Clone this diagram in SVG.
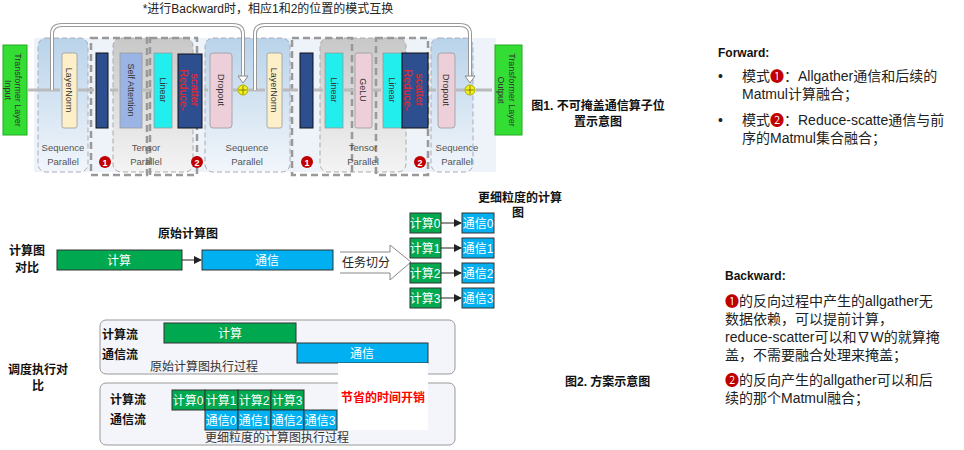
<svg xmlns="http://www.w3.org/2000/svg" width="964" height="450" viewBox="0 0 964 450">
<defs>
<linearGradient id="sp" x1="0" y1="0" x2="0" y2="1"><stop offset="0" stop-color="#b9d3ea"/><stop offset="1" stop-color="#f2f6fb"/></linearGradient>
<linearGradient id="tp" x1="0" y1="0" x2="0" y2="1"><stop offset="0" stop-color="#c8c8c8"/><stop offset="1" stop-color="#f4f4f4"/></linearGradient>
<marker id="ah" markerWidth="8" markerHeight="8" refX="7" refY="4" orient="auto" markerUnits="userSpaceOnUse"><path d="M0,0 L8,4 L0,8 z" fill="#222"/></marker>
</defs>
<style>
text{font-family:"Liberation Sans","Noto Sans CJK SC",sans-serif}
.sp{fill:url(#sp);stroke:#aab;stroke-dasharray:5,3}
.tp{fill:url(#tp);stroke:#aaa;stroke-dasharray:5,3}
.db{fill:none;stroke:#999;stroke-width:2.5;stroke-dasharray:7,4}
.blk{stroke:#999;stroke-width:0.8}
.vt{font-size:9px;fill:#333}
.lab{font-size:9.5px;fill:#555;text-anchor:middle}
.g{fill:#00a84f;stroke:#333;stroke-width:1}
.b{fill:#00b0f0;stroke:#333;stroke-width:1}
.wt{fill:#fff;font-size:12px;text-anchor:middle}
.hd{font-size:12px;font-weight:bold;fill:#111}
.rt{font-size:14px;fill:#222}
.bd{fill:#c00000}
.flow{fill:none;stroke:#bbb;stroke-width:3}
.arc{fill:none;stroke:#999;stroke-width:4}
.arci{fill:none;stroke:#fff;stroke-width:2}
</style>
<text x="268" y="13" font-size="12" text-anchor="middle" fill="#222">*进行Backward时，相应1和2的位置的模式互换</text>
<g id="panels">
<rect x="34" y="38" width="462" height="134" fill="#eef3f9"/>
<rect class="sp" x="38" y="38" width="50" height="134" rx="8"/>
<rect class="tp" x="113" y="38" width="80" height="134" rx="8"/>
<rect class="sp" x="205" y="38" width="85" height="134" rx="8"/>
<rect class="tp" x="320" y="38" width="86" height="134" rx="8"/>
<rect class="sp" x="431" y="38" width="42" height="134" rx="8"/>
<rect class="db" x="91" y="38" width="56" height="137"/>
<rect class="db" x="150" y="38" width="47" height="137"/>
<rect class="db" x="292" y="38" width="60" height="137"/>
<rect class="db" x="376" y="38" width="52" height="137"/>
</g>
<g id="flow">
<line class="flow" x1="28" y1="90" x2="60" y2="90"/>
<line class="flow" x1="78" y1="90" x2="94" y2="90"/>
<line class="flow" x1="110" y1="90" x2="118" y2="90"/>
<line class="flow" x1="143" y1="90" x2="152" y2="90"/>
<line class="flow" x1="204" y1="90" x2="208" y2="90"/>
<line class="flow" x1="233" y1="90" x2="238" y2="90"/>
<line class="flow" x1="249" y1="90" x2="265" y2="90"/>
<line class="flow" x1="283" y1="90" x2="298" y2="90"/>
<line class="flow" x1="314" y1="90" x2="323" y2="90"/>
<line class="flow" x1="344" y1="90" x2="353" y2="90"/>
<line class="flow" x1="373" y1="90" x2="381" y2="90"/>
<line class="flow" x1="429" y1="90" x2="436" y2="90"/>
<line class="flow" x1="456" y1="90" x2="465" y2="90"/>
<line class="flow" x1="476" y1="90" x2="492" y2="90"/>
<path class="arc" d="M52,90 V34 Q52,25 62,25 H233 Q243,25 243,34 V78"/>
<path class="arci" d="M52,90 V34 Q52,25 62,25 H233 Q243,25 243,34 V78"/>
<path d="M238,76 L243,83 L248,76 z" fill="#fff" stroke="#888"/>
<path class="arc" d="M255,90 V34 Q255,25 265,25 H460 Q470,25 470,34 V78"/>
<path class="arci" d="M255,90 V34 Q255,25 265,25 H460 Q470,25 470,34 V78"/>
<path d="M465,76 L470,83 L475,76 z" fill="#fff" stroke="#888"/>
</g>
<g id="blocks">
<rect x="3" y="45" width="24" height="90" fill="#33dd33" stroke="#2a2"/>
<text class="vt" transform="translate(15,90) rotate(90)" text-anchor="middle">Transformer Layer</text>
<text class="vt" transform="translate(5,90) rotate(90)" text-anchor="middle">Input</text>
<rect class="blk" x="62" y="53" width="15" height="75" rx="2" fill="#fdf0c8"/>
<text class="vt" transform="translate(66,90) rotate(90)" text-anchor="middle">LayerNorm</text>
<rect x="96" y="53" width="12" height="75" fill="#2e4f8f" stroke="#111"/>
<rect class="blk" x="120" y="53" width="22" height="75" fill="#9ab4e6"/>
<text class="vt" transform="translate(128,90) rotate(90)" text-anchor="middle">Self Attention</text>
<rect class="blk" x="154" y="53" width="18" height="75" fill="#22eeee"/>
<text class="vt" transform="translate(160,90) rotate(90)" text-anchor="middle">Linear</text>
<rect x="178" y="54" width="24" height="74" fill="#2e4f8f" stroke="#111"/>
<text transform="translate(180,90) rotate(90)" text-anchor="middle" font-size="11" fill="#f22">Reduce-</text>
<text transform="translate(191,90) rotate(90)" text-anchor="middle" font-size="11" fill="#f22">scatter</text>
<rect class="blk" x="210" y="53" width="22" height="75" rx="3" fill="#eccfd8"/>
<text class="vt" transform="translate(218,90) rotate(90)" text-anchor="middle">Dropout</text>
<circle cx="243" cy="90" r="5" fill="#f5f020" stroke="#aa0"/>
<path d="M239,90 H247 M243,86 V94" stroke="#660" stroke-width="0.8"/>
<rect class="blk" x="267" y="53" width="15" height="75" rx="2" fill="#fdf0c8"/>
<text class="vt" transform="translate(271,90) rotate(90)" text-anchor="middle">LayerNorm</text>
<rect x="300" y="53" width="13" height="75" fill="#2e4f8f" stroke="#111"/>
<rect class="blk" x="325" y="53" width="18" height="75" fill="#22eeee"/>
<text class="vt" transform="translate(331,90) rotate(90)" text-anchor="middle">Linear</text>
<rect class="blk" x="355" y="53" width="17" height="75" rx="2" fill="#eccfd8"/>
<text class="vt" transform="translate(360,90) rotate(90)" text-anchor="middle">GeLU</text>
<rect class="blk" x="383" y="53" width="19" height="75" fill="#22eeee"/>
<text class="vt" transform="translate(389,90) rotate(90)" text-anchor="middle">Linear</text>
<rect x="402" y="53" width="26" height="75" fill="#2e4f8f" stroke="#111"/>
<text transform="translate(404,90) rotate(90)" text-anchor="middle" font-size="11" fill="#f22">Reduce-</text>
<text transform="translate(416,90) rotate(90)" text-anchor="middle" font-size="11" fill="#f22">scatter</text>
<rect class="blk" x="438" y="53" width="17" height="75" rx="3" fill="#eccfd8"/>
<text class="vt" transform="translate(443,90) rotate(90)" text-anchor="middle">Dropout</text>
<circle cx="470" cy="90" r="5" fill="#f5f020" stroke="#aa0"/>
<path d="M466,90 H474 M470,86 V94" stroke="#660" stroke-width="0.8"/>
<rect x="495" y="45" width="27" height="90" fill="#33dd33" stroke="#2a2"/>
<text class="vt" transform="translate(509,90) rotate(90)" text-anchor="middle">Transformer Layer</text>
<text class="vt" transform="translate(498,90) rotate(90)" text-anchor="middle">Output</text>
</g>
<g id="labels">
<text class="lab" x="63" y="151">Sequence</text><text class="lab" x="63" y="165">Parallel</text>
<text class="lab" x="146" y="151">Tensor</text><text class="lab" x="146" y="165">Parallel</text>
<text class="lab" x="247" y="151">Sequence</text><text class="lab" x="247" y="165">Parallel</text>
<text class="lab" x="363" y="151">Tensor</text><text class="lab" x="363" y="165">Parallel</text>
<text class="lab" x="457" y="151">Sequence</text><text class="lab" x="457" y="165">Parallel</text>
<g font-size="9" font-weight="bold" fill="#fff" text-anchor="middle">
<circle class="bd" cx="105" cy="162" r="6"/><text x="105" y="165.5">1</text>
<circle class="bd" cx="197" cy="162" r="6"/><text x="197" y="165.5">2</text>
<circle class="bd" cx="307" cy="162" r="6"/><text x="307" y="165.5">1</text>
<circle class="bd" cx="420" cy="162" r="6"/><text x="420" y="165.5">2</text>
</g>
</g>
<g id="fig2-top">
<text class="hd" x="27" y="255" text-anchor="middle">计算图</text>
<text class="hd" x="27" y="272" text-anchor="middle">对比</text>
<text class="hd" x="188" y="238" text-anchor="middle">原始计算图</text>
<rect class="g" x="57" y="250" width="125" height="20"/><text class="wt" x="119" y="265">计算</text>
<rect class="b" x="202" y="250" width="131" height="20"/><text class="wt" x="267" y="265">通信</text>
<text class="hd" x="520" y="202" text-anchor="middle">更细粒度的计算</text>
<text class="hd" x="518" y="217" text-anchor="middle">图</text>
<path d="M340,252 H390 V245 L411,262 L390,280 V273 H340" fill="#fff" stroke="#888"/>
<text x="342" y="267" font-size="12" fill="#222">任务切分</text>
<g>
<rect class="g" x="410" y="213" width="31" height="20"/><text class="wt" x="425" y="228">计算0</text>
<rect class="b" x="462" y="213" width="32" height="20"/><text class="wt" x="478" y="228">通信0</text>
<rect class="g" x="410" y="238" width="31" height="20"/><text class="wt" x="425" y="253">计算1</text>
<rect class="b" x="462" y="238" width="32" height="20"/><text class="wt" x="478" y="253">通信1</text>
<rect class="g" x="410" y="263" width="31" height="20"/><text class="wt" x="425" y="278">计算2</text>
<rect class="b" x="462" y="263" width="32" height="20"/><text class="wt" x="478" y="278">通信2</text>
<rect class="g" x="410" y="288" width="31" height="20"/><text class="wt" x="425" y="303">计算3</text>
<rect class="b" x="462" y="288" width="32" height="20"/><text class="wt" x="478" y="303">通信3</text>
</g>
</g>
<g id="connectors" stroke="#222" stroke-width="1">
<line x1="182" y1="260" x2="201" y2="260" marker-end="url(#ah)"/>
<line x1="441" y1="223" x2="461" y2="223" marker-end="url(#ah)"/>
<line x1="441" y1="248" x2="461" y2="248" marker-end="url(#ah)"/>
<line x1="441" y1="273" x2="461" y2="273" marker-end="url(#ah)"/>
<line x1="441" y1="298" x2="461" y2="298" marker-end="url(#ah)"/>
</g>
<g id="schedule">
<text class="hd" x="38" y="374" text-anchor="middle">调度执行对</text>
<text class="hd" x="38" y="390" text-anchor="middle">比</text>
<rect x="100" y="320" width="355" height="54" rx="6" fill="#f4f5fa" stroke="#999"/>
<text class="hd" x="102" y="339">计算流</text>
<text class="hd" x="102" y="359">通信流</text>
<rect class="g" x="164" y="323" width="132" height="20"/><text class="wt" x="230" y="338">计算</text>
<rect class="b" x="297" y="343" width="131" height="20"/><text class="wt" x="362" y="358">通信</text>
<text x="150" y="371" font-size="12" fill="#333">原始计算图执行过程</text>
<rect x="100" y="383" width="355" height="62" rx="6" fill="#f4f5fa" stroke="#999"/>
<text class="hd" x="110" y="404">计算流</text>
<text class="hd" x="110" y="424">通信流</text>
<rect class="g" x="172" y="390" width="33" height="20"/><text class="wt" x="188" y="405">计算0</text>
<rect class="g" x="205" y="390" width="33" height="20"/><text class="wt" x="221" y="405">计算1</text>
<rect class="g" x="238" y="390" width="33" height="20"/><text class="wt" x="254" y="405">计算2</text>
<rect class="g" x="271" y="390" width="33" height="20"/><text class="wt" x="287" y="405">计算3</text>
<rect class="b" x="205" y="410" width="33" height="20"/><text class="wt" x="221" y="425">通信0</text>
<rect class="b" x="238" y="410" width="33" height="20"/><text class="wt" x="254" y="425">通信1</text>
<rect class="b" x="271" y="410" width="33" height="20"/><text class="wt" x="287" y="425">通信2</text>
<rect class="b" x="304" y="410" width="33" height="20"/><text class="wt" x="320" y="425">通信3</text>
<rect x="338" y="363" width="90" height="67" fill="#fff"/>
<text x="383" y="402" font-size="12" font-weight="bold" fill="#f00" text-anchor="middle">节省的时间开销</text>
<text x="205" y="442" font-size="12" fill="#333">更细粒度的计算图执行过程</text>
</g>
<g id="text-right">
<text class="hd" x="598" y="110" text-anchor="middle">图1. 不可掩盖通信算子位</text>
<text class="hd" x="598" y="126" text-anchor="middle">置示意图</text>
<text class="hd" x="565" y="386">图2. 方案示意图</text>
<text class="hd" x="718" y="57">Forward:</text>
<text class="rt" x="718" y="81">•</text>
<text class="rt" x="742" y="81">模式<tspan fill="#c00000">❶</tspan>：Allgather通信和后续的</text>
<text class="rt" x="742" y="99">Matmul计算融合；</text>
<text class="rt" x="718" y="125">•</text>
<text class="rt" x="742" y="125">模式<tspan fill="#c00000">❷</tspan>：Reduce-scatte通信与前</text>
<text class="rt" x="742" y="143">序的Matmul集合融合；</text>
<text class="hd" x="725" y="280">Backward:</text>
<text class="rt" x="725" y="306"><tspan fill="#c00000">❶</tspan>的反向过程中产生的allgather无</text>
<text class="rt" x="725" y="324">数据依赖，可以提前计算，</text>
<text class="rt" x="725" y="342">reduce-scatter可以和∇W的就算掩</text>
<text class="rt" x="725" y="360">盖，不需要融合处理来掩盖；</text>
<text class="rt" x="725" y="385"><tspan fill="#c00000">❷</tspan>的反向产生的allgather可以和后</text>
<text class="rt" x="725" y="403">续的那个Matmul融合；</text>
</g>
</svg>
